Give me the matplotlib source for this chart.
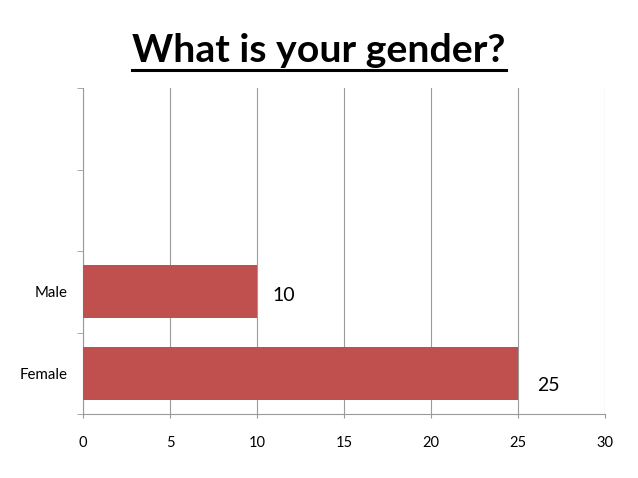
import matplotlib
matplotlib.use("Agg")
import matplotlib.pyplot as plt
from matplotlib.lines import Line2D
import numpy as np

# chart data
categories = ["Female", "Male", "", ""]
values = [25, 10]
x_ticks = [0, 5, 10, 15, 20, 25, 30]

bar_color = "#C0504D"
grid_color = "#9a9a9a"

plt.rcParams['font.family'] = ['Lato', 'DejaVu Sans']

fig = plt.figure(figsize=(6.38, 4.78), dpi=100)
ax = fig.add_axes([83 / 638, 1 - 414 / 478, 522 / 638, 326 / 478])

y = np.arange(len(values))
ax.barh(y, values, height=0.65, color=bar_color, zorder=3)

ax.set_xlim(0, 30)
ax.set_ylim(-0.5, len(categories) - 0.5)
ax.set_xticks(x_ticks)
ax.set_xticklabels([str(t) for t in x_ticks], fontsize=10.5)
ax.xaxis.grid(True, color=grid_color, linewidth=0.8, zorder=0)
ax.tick_params(axis='x', length=3, color=grid_color, pad=13)

# category labels in the middle, tick marks at boundaries
ax.set_yticks(np.arange(len(categories)))
ax.set_yticklabels(categories, fontsize=10.8)
ax.tick_params(axis='y', which='major', length=0, pad=11)
ax.set_yticks(np.arange(len(categories) + 1) - 0.5, minor=True)
ax.tick_params(axis='y', which='minor', length=4, color=grid_color)

for s in ['top', 'right']:
    ax.spines[s].set_visible(False)
for s in ['left', 'bottom']:
    ax.spines[s].set_color(grid_color)
    ax.spines[s].set_linewidth(0.8)

# data labels
ax.text(values[1] + 1.55, y[1] - 0.04, str(values[1]), fontsize=14,
        ha='center', va='center')
ax.text(values[0] + 1.75, y[0] - 0.15, str(values[0]), fontsize=14,
        ha='center', va='center')

# underlined title
title = fig.text(0.5, 1 - 62 / 478, "What is your gender?", fontsize=28.3,
                 fontweight='bold', ha='center', va='baseline')
fig.canvas.draw()
bb = title.get_window_extent().transformed(fig.transFigure.inverted())
uy = 1 - 70 / 478
fig.add_artist(Line2D([bb.x0, bb.x1], [uy, uy], color='black', linewidth=2.2))

fig.savefig("out.png", dpi=100)
